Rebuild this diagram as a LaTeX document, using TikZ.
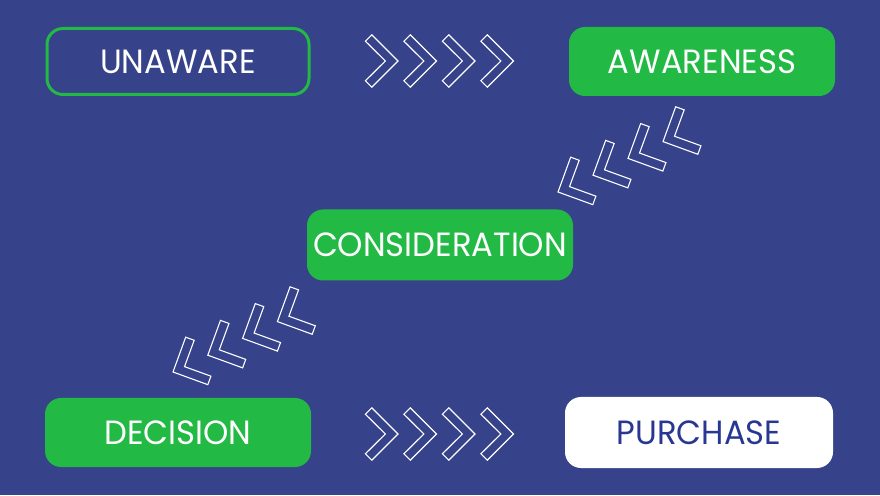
\documentclass[tikz,border=0pt]{standalone}
\usepackage{fontspec}
\newfontfamily\boxfont[FakeStretch=0.96]{Poppins}
\definecolor{bgblue}{RGB}{54,66,138}
\definecolor{fgreen}{RGB}{34,185,69}
\definecolor{txtblue}{RGB}{40,56,146}
\tikzset{
  stage/.style={rounded corners=16pt, minimum width=266pt, minimum height=69pt, inner sep=0pt,
    font=\boxfont\fontsize{33.6}{33.6}\selectfont, text=white},
  filledstage/.style={stage, fill=fgreen},
  outlinestage/.style={stage, draw=fgreen, line width=3pt, minimum width=262pt, minimum height=66pt},
  whitestage/.style={stage, fill=white, text=txtblue},
  chevline/.style={draw=white, line width=1.1pt, line join=miter},
  chev/.pic={\path[chevline] (0,0) -- (-26.2,26.2) -- (-32.6,19.8) -- (-12.7,0) -- (-32.6,-19.8) -- (-26.2,-26.2) -- cycle;}
}
\begin{document}
\begin{tikzpicture}[x=1pt,y=1pt]
\fill[bgblue] (0,0) rectangle (880,495);
\useasboundingbox (0,0) rectangle (880,495);
\node[outlinestage] (unaware) at (178,433.5) {UNAWARE};
\node[filledstage] (awareness) at (702,433.5) {AWARENESS};
\node[filledstage, minimum height=71pt] (consideration) at (440,250) {CONSIDERATION};
\node[filledstage] (decision) at (178,62.5) {DECISION};
\node[whitestage, minimum width=268pt, minimum height=71pt] (purchase) at (699,62.5) {PURCHASE};
% horizontal chevrons
\foreach \i in {0,1,2,3} {
  \pic at ({398+38.5*\i},434) {chev};
  \pic at ({398+38.5*\i},61) {chev};
}
% diagonal chevrons
\foreach \i in {0,1,2,3} {
  \pic[rotate=205] at ({558+35*\i},{303+16.8*\i}) {chev};
  \pic[rotate=205] at ({173+34.8*\i},{123+16.8*\i}) {chev};
}
\end{tikzpicture}
\end{document}
